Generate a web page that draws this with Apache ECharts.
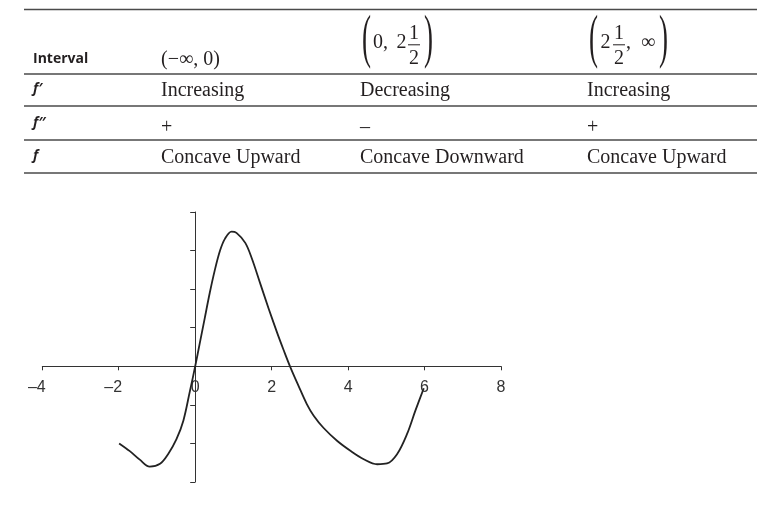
<!DOCTYPE html>
<html>
<head>
<meta charset="utf-8">
<script src="https://cdn.jsdelivr.net/npm/echarts@6/dist/echarts.min.js"></script>
<style>
html,body{margin:0;padding:0;background:#fff;}
#c{width:768px;height:507px;}
</style>
</head>
<body>
<div id="c"></div>
<script>
// ---- data ----
const xTickValues = [-4, -2, 0, 2, 4, 6, 8];
const xTickLabels = ['\u20134', '\u20132', '0', '2', '4', '6', '8'];
const curveX = [-1.99, -1.71, -1.45, -1.19, -0.92, -0.71, -0.49, -0.31, -0.14, 0, 0.12, 0.25, 0.38, 0.51, 0.65, 0.78, 0.95, 1.08, 1.31, 1.48, 1.70, 1.92, 2.14, 2.31, 2.48, 2.70, 2.92, 3.10, 3.36, 3.71, 4.06, 4.41, 4.76, 5.02, 5.28, 5.54, 5.76, 5.98];
const curveY = [-2.0, -2.2, -2.42, -2.6, -2.53, -2.28, -1.89, -1.41, -0.65, 0, 0.6, 1.25, 1.9, 2.48, 3.0, 3.31, 3.49, 3.46, 3.2, 2.8, 2.15, 1.5, 0.88, 0.43, 0, -0.5, -0.98, -1.28, -1.6, -1.93, -2.19, -2.41, -2.54, -2.52, -2.28, -1.76, -1.15, -0.57];

const headerLabel = 'Interval';
const intervalFirst = '(\u2212\u221E, 0)';
const rowLabels = ['f\u2032', 'f\u2033', 'f'];
const colA = ['Increasing', '+', 'Concave Upward'];
const colB = ['Decreasing', '\u2013', 'Concave Downward'];
const colC = ['Increasing', '+', 'Concave Upward'];

// ---- layout ----
const SERIF = '"Liberation Serif", "Times New Roman", serif';
const SANS = '"Open Sans", Lato, sans-serif';
const INK = '#231f20';
const tableLeft = 24, tableRight = 757;
const ruleYs = [9.5, 74, 106, 140, 173];
const colXs = [161, 360, 587];
const rowMidYs = [90.7, 127.5, 158.2];
const labelMidYs = [89.5, 123, 156];

const g = [];
ruleYs.forEach(y => g.push({type:'line', shape:{x1:tableLeft, y1:y, x2:tableRight, y2:y}, style:{stroke:'#4a4a4a', lineWidth:1.5}}));

function txt(s, x, y, font, align, extra) {
  const e = {type:'text', x:x, y:y, style:{text:s, font:font, fill:INK, textAlign:align || 'left', textVerticalAlign:'middle'}};
  return Object.assign(e, extra || {});
}
g.push(txt(headerLabel, 33, 59.5, 'bold 14px ' + SANS));
g.push(txt(intervalFirst, colXs[0], 59.7, '20px ' + SERIF));
function fraction(cx) {
  g.push(txt('1', cx, 34, '20px ' + SERIF, 'center'));
  g.push({type:'line', shape:{x1:cx-6, y1:44.8, x2:cx+6, y2:44.8}, style:{stroke:INK, lineWidth:1}});
  g.push(txt('2', cx, 58.3, '20px ' + SERIF, 'center'));
}
function paren(s, cx) {
  g.push(txt(s, cx, 40, '60px ' + SERIF, 'center', {scaleX:0.45}));
}
paren('(', 366.5);
g.push(txt('0,', 373, 43.2, '20px ' + SERIF));
g.push(txt('2', 396.5, 43.2, '20px ' + SERIF));
fraction(414);
paren(')', 428.5);
paren('(', 593.5);
g.push(txt('2', 600.5, 43.2, '20px ' + SERIF));
fraction(619);
g.push(txt(',', 626, 43.2, '20px ' + SERIF));
g.push(txt('\u221E', 641, 43.2, '20px ' + SERIF));
paren(')', 663.5);

rowLabels.forEach((s, i) => g.push(txt(s, 33, labelMidYs[i], 'italic bold 14px ' + SANS)));
[colA, colB, colC].forEach((col, c) => col.forEach((s, r) => g.push(txt(s, colXs[c], rowMidYs[r], '20px ' + SERIF))));

const chart = echarts.init(document.getElementById('c'), null, {renderer:'canvas'});
chart.setOption({
  animation: false,
  backgroundColor: '#fff',
  grid: {left: 42.3, right: 267, top: 212, bottom: 25},
  xAxis: {
    type: 'value', min: -4, max: 8, interval: 2,
    position: 'bottom',
    offset: -115.7,
    axisLine: {onZero: false, lineStyle: {color: '#333', width: 1}},
    axisTick: {length: 4, lineStyle: {color: '#333'}},
    splitLine: {show: false},
    axisLabel: {
      margin: 13, color: '#333', fontSize: 16, fontFamily: '"Liberation Sans", Arial, sans-serif',
      formatter: v => {
        const i = xTickValues.indexOf(v);
        const s = i >= 0 ? xTickLabels[i] : String(v);
        return v < 0 ? '{n|' + s + '}' : s;
      },
      rich: {n: {padding: [0, 11, 0, 0], color: '#333', fontSize: 16, fontFamily: '"Liberation Sans", Arial, sans-serif'}}
    }
  },
  yAxis: {
    type: 'value', min: -3, max: 4, interval: 1,
    axisLine: {show: true, onZero: true, lineStyle: {color: '#333', width: 1}},
    axisTick: {show: true, length: 5, lineStyle: {color: '#333'}},
    axisLabel: {show: false},
    splitLine: {show: false}
  },
  series: [{
    type: 'line',
    data: curveX.map((x, i) => [x, curveY[i]]),
    smooth: 0.35,
    showSymbol: false,
    lineStyle: {color: '#222', width: 1.8}
  }],
  graphic: g
});
</script>
</body>
</html>
